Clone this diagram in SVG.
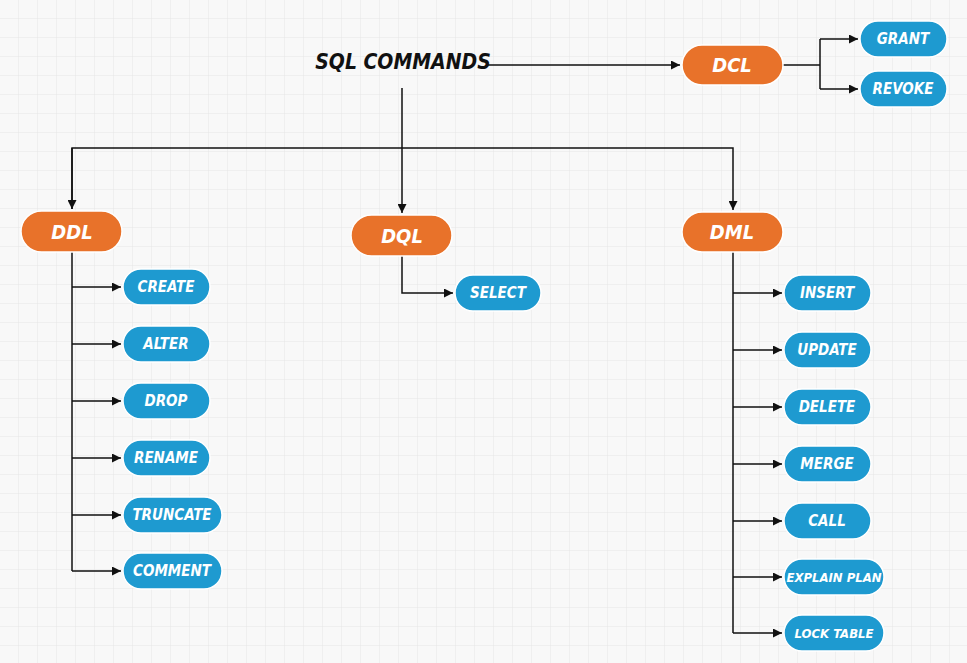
<svg xmlns="http://www.w3.org/2000/svg" width="967" height="663" viewBox="0 0 967 663">
<defs>
<pattern id="g" width="19" height="19" patternUnits="userSpaceOnUse"><path d="M19 0V19H0" fill="none" stroke="#e6e6e6" stroke-width="1"/></pattern>
<marker id="a" viewBox="0 0 10 10" refX="10" refY="5" markerWidth="9" markerHeight="9" orient="auto" markerUnits="userSpaceOnUse"><path d="M0 0L10 5L0 10z" fill="#111"/></marker>
<style>
.o{fill:#E8722A;stroke:#fff;stroke-width:1.5}
.b{fill:#1E9AD0;stroke:#fff;stroke-width:1.5}
.t{font-family:"DejaVu Sans",sans-serif;font-weight:bold;font-style:italic;font-stretch:condensed;fill:#fff;text-anchor:middle;dominant-baseline:central}
.L{font-size:20px}.S{font-size:15px}.X{font-size:13px}
.c{fill:none;stroke:#111;stroke-width:1.5}
</style>
</defs>
<rect width="967" height="663" fill="#f8f8f8"/>
<rect width="967" height="663" fill="url(#g)"/>
<text x="403" y="62" class="t L" style="fill:#111;font-size:21px">SQL COMMANDS</text>
<g id="connectors">
<path class="c" d="M487 65H680" marker-end="url(#a)"/>
<path class="c" d="M402 88V213" marker-end="url(#a)"/>
<path class="c" d="M72 209V148H733V210" marker-end="url(#a)"/>
<path class="c" d="M72 148V209" marker-end="url(#a)"/>
<path class="c" d="M783 65H820M820 39V89"/>
<path class="c" d="M820 39H858" marker-end="url(#a)"/>
<path class="c" d="M820 89H858" marker-end="url(#a)"/>
<path class="c" d="M72 252V571"/>
<path class="c" d="M72 287H121" marker-end="url(#a)"/>
<path class="c" d="M72 344H121" marker-end="url(#a)"/>
<path class="c" d="M72 401H121" marker-end="url(#a)"/>
<path class="c" d="M72 458H121" marker-end="url(#a)"/>
<path class="c" d="M72 515H121" marker-end="url(#a)"/>
<path class="c" d="M72 571H121" marker-end="url(#a)"/>
<path class="c" d="M402 256V293H453" marker-end="url(#a)"/>
<path class="c" d="M733 252V633"/>
<path class="c" d="M733 293H782" marker-end="url(#a)"/>
<path class="c" d="M733 350H782" marker-end="url(#a)"/>
<path class="c" d="M733 407H782" marker-end="url(#a)"/>
<path class="c" d="M733 464H782" marker-end="url(#a)"/>
<path class="c" d="M733 521H782" marker-end="url(#a)"/>
<path class="c" d="M733 577H782" marker-end="url(#a)"/>
<path class="c" d="M733 633H782" marker-end="url(#a)"/>
</g>
<g id="dcl"><rect class="o" x="682" y="45" width="101" height="40" rx="20"/><text class="t L" x="732" y="65">DCL</text></g>
<g id="grant"><rect class="b" x="860" y="21" width="87" height="36" rx="18"/><text class="t S" x="903" y="39">GRANT</text></g>
<g id="revoke"><rect class="b" x="860" y="71" width="87" height="36" rx="18"/><text class="t S" x="903" y="89">REVOKE</text></g>
<g id="ddl"><rect class="o" x="21" y="211" width="101" height="41" rx="20.5"/><text class="t L" x="72" y="232">DDL</text></g>
<g id="dql"><rect class="o" x="351" y="215" width="101" height="41" rx="20.5"/><text class="t L" x="402" y="236">DQL</text></g>
<g id="dml"><rect class="o" x="682" y="212" width="101" height="40" rx="20"/><text class="t L" x="732" y="232">DML</text></g>
<g id="create"><rect class="b" x="123" y="269" width="87" height="36" rx="18"/><text class="t S" x="166" y="287">CREATE</text></g>
<g id="alter"><rect class="b" x="123" y="326" width="87" height="36" rx="18"/><text class="t S" x="166" y="344">ALTER</text></g>
<g id="drop"><rect class="b" x="123" y="383" width="87" height="36" rx="18"/><text class="t S" x="166" y="401">DROP</text></g>
<g id="rename"><rect class="b" x="123" y="440" width="87" height="36" rx="18"/><text class="t S" x="166" y="458">RENAME</text></g>
<g id="truncate"><rect class="b" x="123" y="497" width="99" height="36" rx="18"/><text class="t S" x="172" y="515">TRUNCATE</text></g>
<g id="comment"><rect class="b" x="123" y="553" width="99" height="36" rx="18"/><text class="t S" x="172" y="571">COMMENT</text></g>
<g id="select"><rect class="b" x="455" y="275" width="86" height="36" rx="18"/><text class="t S" x="498" y="293">SELECT</text></g>
<g id="insert"><rect class="b" x="784" y="275" width="87" height="36" rx="18"/><text class="t S" x="827" y="293">INSERT</text></g>
<g id="update"><rect class="b" x="784" y="332" width="87" height="36" rx="18"/><text class="t S" x="827" y="350">UPDATE</text></g>
<g id="delete"><rect class="b" x="784" y="389" width="87" height="36" rx="18"/><text class="t S" x="827" y="407">DELETE</text></g>
<g id="merge"><rect class="b" x="784" y="446" width="87" height="36" rx="18"/><text class="t S" x="827" y="464">MERGE</text></g>
<g id="call"><rect class="b" x="784" y="503" width="87" height="36" rx="18"/><text class="t S" x="827" y="521">CALL</text></g>
<g id="explain"><rect class="b" x="784" y="559" width="100" height="36" rx="18"/><text class="t X" x="834" y="577">EXPLAIN PLAN</text></g>
<g id="lock"><rect class="b" x="784" y="615" width="100" height="36" rx="18"/><text class="t X" x="834" y="633">LOCK TABLE</text></g>
</svg>
